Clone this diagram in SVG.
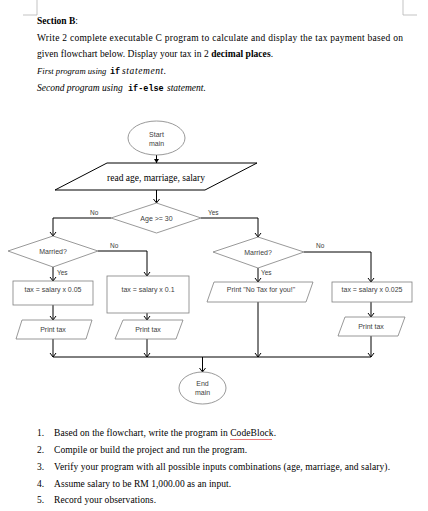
<svg xmlns="http://www.w3.org/2000/svg" width="428" height="511" viewBox="0 0 428 511">
<defs>
<style>
.body{font-family:"Liberation Serif","Times New Roman",serif;font-size:9.5px;fill:#000}
.it{font-style:italic}
.mono{font-family:"Liberation Mono","Courier New",monospace;font-weight:bold;font-style:normal;font-size:8.5px}
.fl{font-family:"Liberation Sans",Arial,sans-serif;font-size:7px;fill:#404040;text-anchor:middle}
.lbl{font-family:"Liberation Sans",Arial,sans-serif;font-size:6.5px;fill:#404040}
.shape{fill:#fff;stroke:#7f7f7f;stroke-width:0.8}
.conn{fill:none;stroke:#000;stroke-width:1}
.mark{stroke:#b4b4b4;stroke-width:0.8;fill:none}
</style>
<marker id="v" viewBox="-5 -4 6 8" refX="0" refY="0" markerWidth="6" markerHeight="8" markerUnits="userSpaceOnUse" orient="auto">
<path d="M-4,-3 L0,0 L-4,3" fill="none" stroke="#000" stroke-width="1"/>
</marker>
<marker id="f" viewBox="-5 -4 6 8" refX="0" refY="0" markerWidth="6" markerHeight="8" markerUnits="userSpaceOnUse" orient="auto">
<path d="M-4,-2.5 L0,0 L-4,2.5 Z" fill="#000"/>
</marker>
</defs>
<rect width="428" height="511" fill="#fff"/>
<g id="page-marks">
<path class="mark" d="M37,0 V15 H23"/>
<path class="mark" d="M403,0 V15 H417"/>
</g>
<g id="header-text">
<text class="body" x="37" y="24"><tspan font-weight="bold">Section B</tspan>:</text>
<text class="body" x="37" y="41" textLength="366" lengthAdjust="spacing">Write 2 complete executable C program to calculate and display the tax payment based on</text>
<text class="body" x="37" y="57" textLength="236" lengthAdjust="spacing">given flowchart below. Display your tax in 2 <tspan font-weight="bold">decimal places</tspan>.</text>
<text class="body it" y="74"><tspan x="37" font-size="8.6">First program using</tspan><tspan class="mono" x="110" font-size="8">if</tspan><tspan x="122" letter-spacing="0.6">statement.</tspan></text>
<text class="body it" y="91"><tspan x="37">Second program using</tspan><tspan class="mono" x="128" font-size="8.3">if-else</tspan><tspan x="167">statement.</tspan></text>
</g>
<g id="connectors">
<path class="conn" d="M156.5,155 V163" marker-end="url(#f)"/>
<path class="conn" d="M156.5,190 V203" marker-end="url(#v)"/>
<path class="conn" d="M111,218 H53 V236" marker-end="url(#v)"/>
<path class="conn" d="M201,218 H258 V237" marker-end="url(#v)"/>
<path class="conn" d="M98,251 H147 V276" marker-end="url(#v)"/>
<path class="conn" d="M53,267 V281" marker-end="url(#v)"/>
<path class="conn" d="M304,252 H371 V282" marker-end="url(#v)"/>
<path class="conn" d="M258,268 V282" marker-end="url(#v)"/>
<path class="conn" d="M53,305 V320" marker-end="url(#v)"/>
<path class="conn" d="M147,313 V320" marker-end="url(#v)"/>
<path class="conn" d="M371,302 V317" marker-end="url(#v)"/>
<path class="conn" d="M53,339 V357" marker-end="url(#v)"/>
<path class="conn" d="M147,339 V357" marker-end="url(#v)"/>
<path class="conn" d="M258,302 V357" marker-end="url(#v)"/>
<path class="conn" d="M371,336 V357" marker-end="url(#v)"/>
<path class="conn" d="M53,357 H371"/>
<path class="conn" d="M202.5,357 V372" marker-end="url(#v)"/>
<text class="lbl" x="90" y="215">No</text>
<text class="lbl" x="208" y="215">Yes</text>
<text class="lbl" x="110" y="248">No</text>
<text class="lbl" x="316" y="248">No</text>
<text class="lbl" x="57" y="275">Yes</text>
<text class="lbl" x="261" y="275">Yes</text>
</g>
<g id="start">
<ellipse class="shape" cx="156.5" cy="138" rx="28.5" ry="17"/>
<text class="fl" x="156.5" y="136.5">Start</text>
<text class="fl" x="156.5" y="145.5">main</text>
</g>
<g id="read">
<polygon points="107,163 257,163 205,190 55,190" fill="#fff" stroke="#000" stroke-width="1"/>
<text class="body" x="156" y="181" text-anchor="middle">read age, marriage, salary</text>
</g>
<g id="age-check">
<polygon class="shape" points="156.5,203 201,218 156.5,233 111,218"/>
<text class="fl" x="156.5" y="220.5">Age &gt;= 30</text>
</g>
<g id="married-left">
<polygon class="shape" points="53,236 98,251 53,267 8,251"/>
<text class="fl" x="53" y="253.5">Married?</text>
</g>
<g id="married-right">
<polygon class="shape" points="258,237 304,252 258,268 213,252"/>
<text class="fl" x="258" y="254.5">Married?</text>
</g>
<g id="tax-005">
<rect class="shape" x="13" y="281" width="80" height="24"/>
<text class="fl" x="53" y="291.5">tax = salary x 0.05</text>
</g>
<g id="tax-01">
<rect class="shape" x="107" y="276" width="82" height="37"/>
<text class="fl" x="148" y="291.5">tax = salary x 0.1</text>
</g>
<g id="no-tax">
<polygon class="shape" points="214,282 313,282 306,302 207,302"/>
<text class="fl" x="261" y="291.5">Print "No Tax for you!"</text>
</g>
<g id="tax-0025">
<rect class="shape" x="332" y="282" width="80" height="20"/>
<text class="fl" x="372" y="291.5">tax = salary x 0.025</text>
</g>
<g id="print-left">
<polygon class="shape" points="22,320 92,320 86,339 16,339"/>
<text class="fl" x="53" y="332">Print tax</text>
</g>
<g id="print-mid">
<polygon class="shape" points="123,320 183,320 176,339 115,339"/>
<text class="fl" x="148" y="332">Print tax</text>
</g>
<g id="print-right">
<polygon class="shape" points="345,317 405,317 398,336 338,336"/>
<text class="fl" x="371" y="328.5">Print tax</text>
</g>
<g id="end">
<ellipse class="shape" cx="202.5" cy="388" rx="23.5" ry="16"/>
<text class="fl" x="202.5" y="386">End</text>
<text class="fl" x="202.5" y="395">main</text>
</g>
<g id="tasks">
<text class="body" x="37" y="436">1.</text>
<text class="body" x="54" y="436" textLength="222" lengthAdjust="spacing">Based on the flowchart, write the program in CodeBlock.</text>
<path d="M230,439 l1,1 l1,-1 l1,1 l1,-1 l1,1 l1,-1 l1,1 l1,-1 l1,1 l1,-1 l1,1 l1,-1 l1,1 l1,-1 l1,1 l1,-1 l1,1 l1,-1 l1,1 l1,-1 l1,1 l1,-1 l1,1 l1,-1 l1,1 l1,-1 l1,1 l1,-1 l1,1 l1,-1 l1,1 l1,-1 l1,1 l1,-1 l1,1 l1,-1 l1,1 l1,-1 l1,1 l1,-1 l1,1 l1,-1" fill="none" stroke="#e02020" stroke-width="0.6"/>
<text class="body" x="37" y="453">2.</text>
<text class="body" x="54" y="453" textLength="193" lengthAdjust="spacing">Compile or build the project and run the program.</text>
<text class="body" x="37" y="470">3.</text>
<text class="body" x="54" y="470" textLength="336" lengthAdjust="spacing">Verify your program with all possible inputs combinations (age, marriage, and salary).</text>
<text class="body" x="37" y="487">4.</text>
<text class="body" x="54" y="487" textLength="177" lengthAdjust="spacing">Assume salary to be RM 1,000.00 as an input.</text>
<text class="body" x="37" y="503">5.</text>
<text class="body" x="54" y="503" textLength="102" lengthAdjust="spacing">Record your observations.</text>
</g>
</svg>
